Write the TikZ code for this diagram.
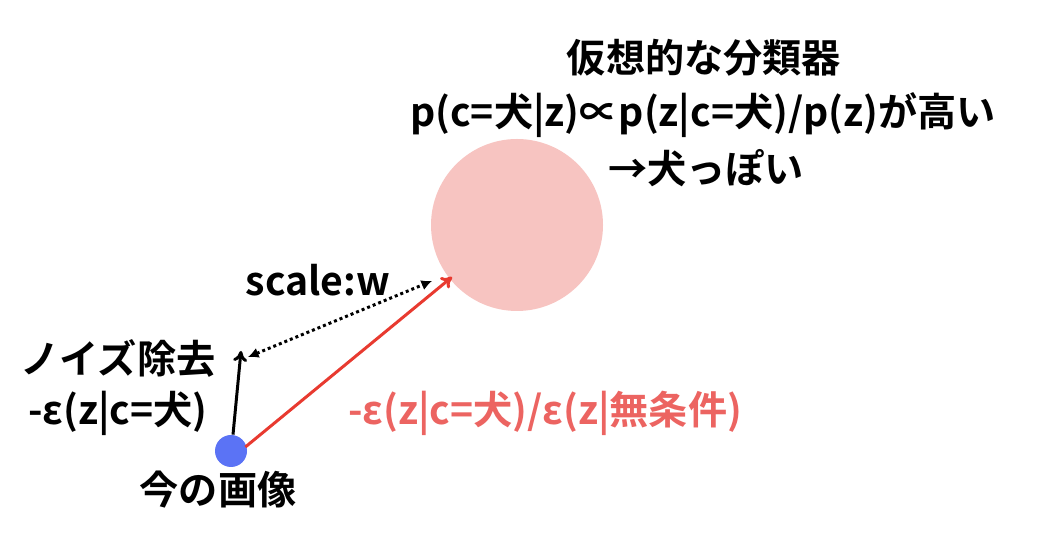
\documentclass[tikz,border=0pt]{standalone}
\usepackage{fontspec}
\setmainfont{Noto Sans CJK JP}[BoldFont={Noto Sans CJK JP Bold}]
\usetikzlibrary{arrows.meta}
\definecolor{clfpink}{HTML}{F7C4C1}
\definecolor{imgblue}{HTML}{5B73F5}
\definecolor{guidered}{HTML}{E83A30}
\definecolor{labelred}{HTML}{EC6461}
\tikzset{lbl/.style={font=\fontsize{22.3}{26}\selectfont\bfseries, inner sep=0pt}}
\begin{document}
\begin{tikzpicture}[x=0.02cm,y=-0.02cm]
      \useasboundingbox (0,0) rectangle (1058,546);
      \node[circle, fill=clfpink, minimum size=172*0.02cm, inner sep=0pt] (clf) at (517,225) {};
      \node[circle, fill=imgblue, minimum size=32*0.02cm, inner sep=0pt] (img) at (231,451) {};
	  \node[lbl] (title) at (704,58) {仮想的な分類器};
      \node[lbl] (bayes) at (703,115) {p(c=犬|z)∝p(z|c=犬)/p(z)が高い};
      \node[lbl] (dog) at (706,168) {→犬っぽい};
      \node[lbl] (scale) at (318,280) {scale:w};
      \node[lbl] (denoise) at (118,358) {ノイズ除去};
      \node[lbl] (eps) at (118,413) {-ε(z|c=犬)};
      \node[lbl, labelred] (ratio) at (545,413) {-ε(z|c=犬)/ε(z|無条件)};
      \node[lbl] (now) at (218,490) {今の画像};
      \coordinate (tipA) at (241,351);
      \coordinate (tipB) at (248,357);
      \coordinate (tipC) at (432,281);
      \coordinate (tipD) at (452,277);
      \draw[->,>={To[length=6pt,width=8pt]}, line width=1.7pt] (img.north) ++(2,0) -- (tipA);
      \draw[<->,>={Latex[length=6pt,width=6pt]}, line width=1.7pt, dash pattern=on 1.7pt off 1.7pt] (tipB) -- (tipC);
      \draw[->,>={To[length=6pt,width=8pt]}, line width=1.7pt, guidered] (img.east) ++(-2,-4) -- (tipD);
\end{tikzpicture}
\end{document}
